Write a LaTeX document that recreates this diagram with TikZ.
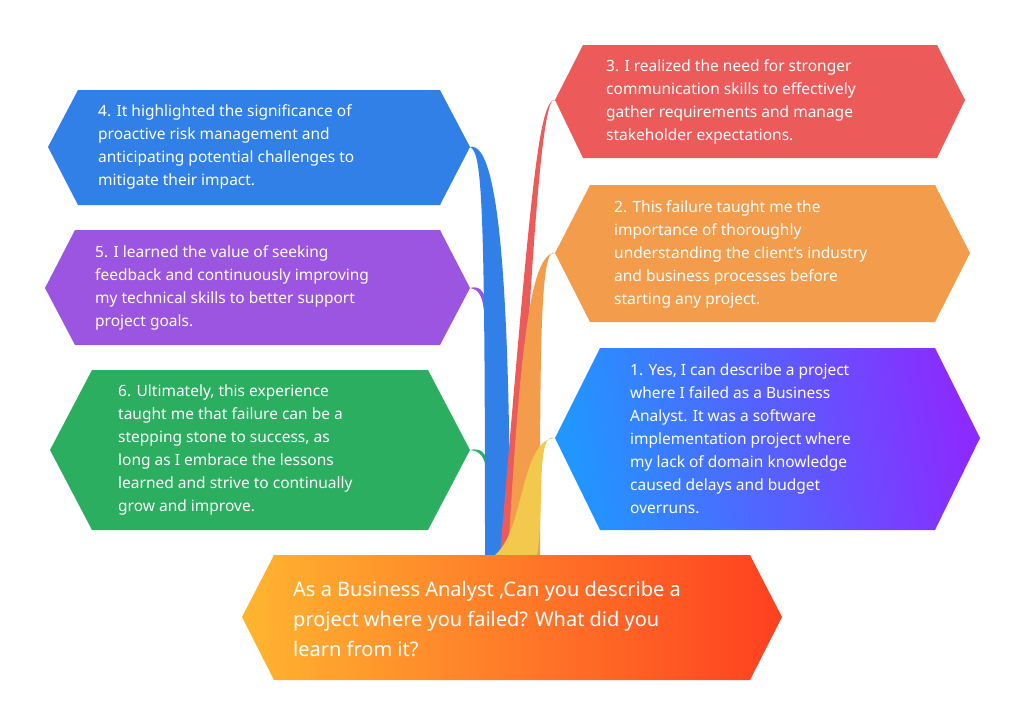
\documentclass[tikz,border=0pt]{standalone}
\usepackage{fontspec}
\setmainfont{Noto Sans}
\begin{document}
\begin{tikzpicture}[x=1pt,y=-1pt,
  txt/.style={text=white,align=left,anchor=west,inner sep=0pt,font=\fontsize{15.5}{23}\selectfont},
  rib/.style={draw=none}]
\useasboundingbox (0,0) rectangle (1024,724);
\definecolor{cblue}{HTML}{3080E8}
\definecolor{cpurple}{HTML}{9B55E0}
\definecolor{cgreen}{HTML}{2BAE60}
\definecolor{cred}{HTML}{EC5A5A}
\definecolor{corange}{HTML}{F39C4C}
\definecolor{cyellow}{HTML}{F2C94C}
\definecolor{gA}{HTML}{2196FF}
\definecolor{gB}{HTML}{8B2BFF}
\definecolor{rA}{HTML}{FFB530}
\definecolor{rB}{HTML}{FF4020}
% tips
\coordinate (t4) at (470,147);
\coordinate (t5) at (470,288);
\coordinate (t6) at (470,450);
\coordinate (t3) at (555,100);
\coordinate (t2) at (555,253);
\coordinate (t1) at (555,438);
% ribbons
\fill[cgreen] (t6) .. controls (490,452) and (488,470) .. (488,555) -- (494,555) .. controls (492,470) and (492,445) .. (t6);
\fill[cpurple] (t5) .. controls (490,292) and (486,310) .. (486,555) -- (492,555) .. controls (494,310) and (492,282) .. (t5);
\fill[cblue] (t4) .. controls (482,152) and (485,200) .. (485,555) -- (510,555) .. controls (510,300) and (500,140) .. (t4);
\fill[cred] (t3) .. controls (538,100) and (530,200) .. (500,555) -- (515,555) .. controls (530,300) and (540,92) .. (t3);
\fill[corange] (t2) .. controls (530,253) and (520,350) .. (508,555) -- (540,555) .. controls (540,350) and (540,245) .. (t2);
\fill[cyellow] (t1) .. controls (520,440) and (525,530) .. (495,555) -- (537,555) .. controls (545,510) and (535,430) .. (t1);
% hexagons
\fill[cblue] (48,147) -- (78,90) -- (440,90) -- (t4) -- (440,205) -- (78,205) -- cycle;
\fill[cpurple] (45,288) -- (75,230) -- (440,230) -- (t5) -- (440,345) -- (75,345) -- cycle;
\fill[cgreen] (50,450) -- (92,370) -- (428,370) -- (t6) -- (428,530) -- (92,530) -- cycle;
\fill[cred] (t3) -- (583,45) -- (937,45) -- (965,100) -- (937,158) -- (583,158) -- cycle;
\fill[corange] (t2) -- (590,185) -- (935,185) -- (970,253) -- (935,322) -- (590,322) -- cycle;
\shade[left color=gA,right color=gB,shading angle=100] (t1) -- (600,348) -- (935,348) -- (980,438) -- (935,530) -- (600,530) -- cycle;
\shade[left color=rA,right color=rB] (242,617) -- (274,555) -- (750,555) -- (782,617) -- (750,680) -- (274,680) -- cycle;
% texts
\node[txt] (n4) at (98,147) {4. It highlighted the significance of\\proactive risk management and\\anticipating potential challenges to\\mitigate their impact.};
\node[txt] (n5) at (95,288) {5. I learned the value of seeking\\feedback and continuously improving\\my technical skills to better support\\project goals.};
\node[txt] (n6) at (118,450) {6. Ultimately, this experience\\taught me that failure can be a\\stepping stone to success, as\\long as I embrace the lessons\\learned and strive to continually\\grow and improve.};
\node[txt] (n3) at (606,102) {3. I realized the need for stronger\\communication skills to effectively\\gather requirements and manage\\stakeholder expectations.};
\node[txt] (n2) at (614,254) {2. This failure taught me the\\importance of thoroughly\\understanding the client's industry\\and business processes before\\starting any project.};
\node[txt] (n1) at (630,439) {1. Yes, I can describe a project\\where I failed as a Business\\Analyst. It was a software\\implementation project where\\my lack of domain knowledge\\caused delays and budget\\overruns.};
\node[txt,font=\fontsize{20}{30}\selectfont] (root) at (293,619) {As a Business Analyst ,Can you describe a\\project where you failed? What did you\\learn from it?};
\end{tikzpicture}
\end{document}
